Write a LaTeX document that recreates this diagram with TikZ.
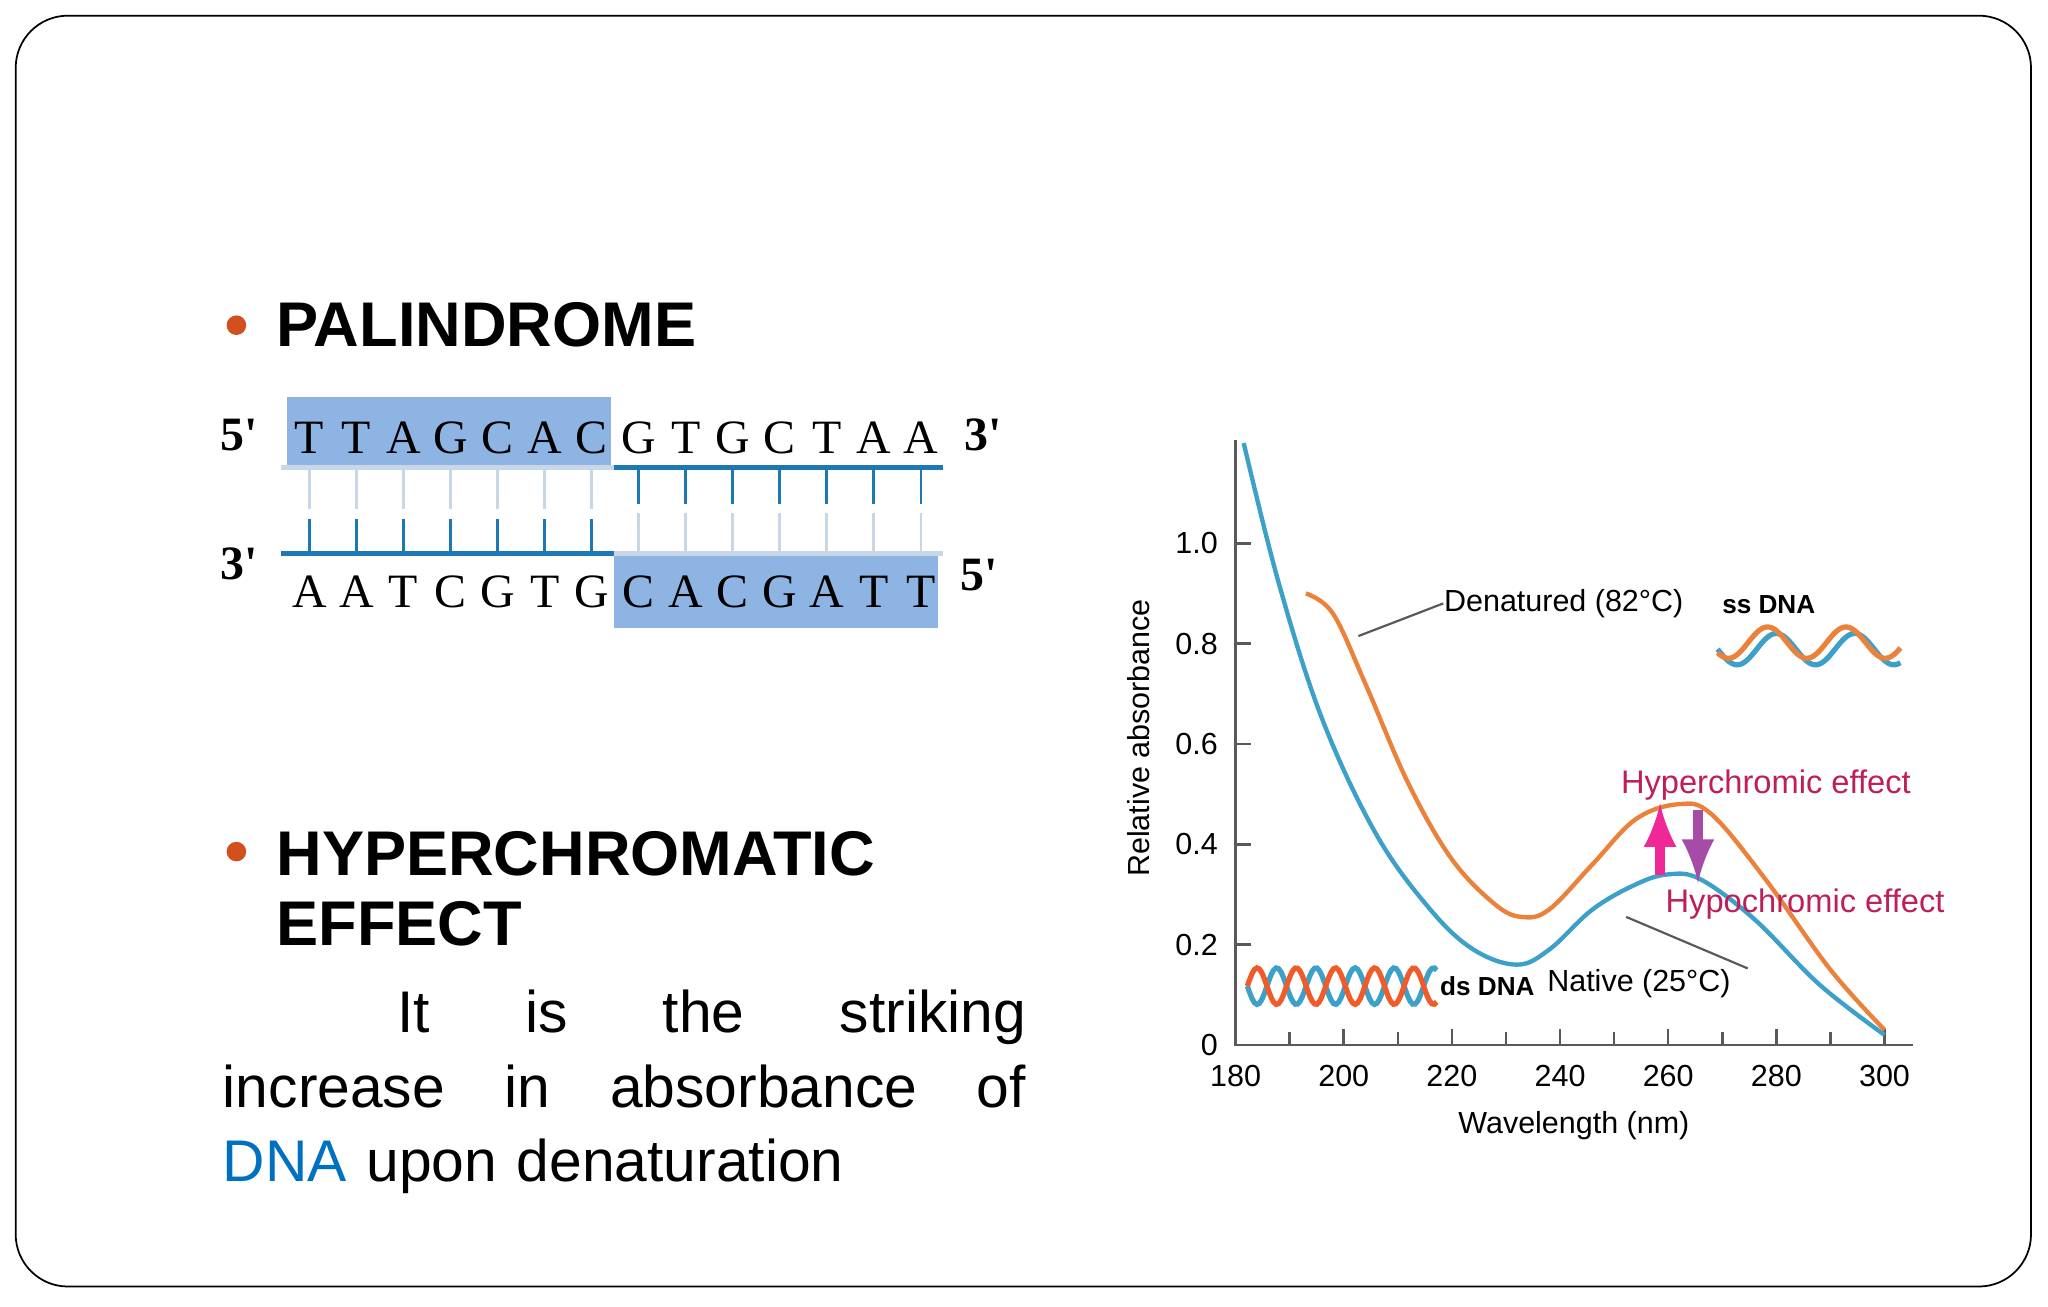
\documentclass[tikz,border=0pt]{standalone}
\usepackage{fontspec}
\setmainfont{Liberation Sans}
\newfontfamily\seqfont{Liberation Serif}
\usetikzlibrary{positioning}
\definecolor{boxblue}{RGB}{141,180,226}
\definecolor{strand}{RGB}{30,120,180}
\definecolor{pale}{RGB}{200,215,230}
\definecolor{bul}{RGB}{210,80,30}
\definecolor{nat}{RGB}{60,160,200}
\definecolor{den}{RGB}{235,130,60}
\definecolor{mag}{RGB}{190,30,90}
\definecolor{dnablue}{RGB}{0,112,192}
\tikzset{
  bullet/.style={fill=bul,circle,inner sep=0pt,minimum size=4.5pt},
  head/.style={anchor=west,inner sep=0pt,font=\fontsize{14.5}{17}\selectfont\bfseries},
  base/.style={font=\seqfont\fontsize{11}{12}\selectfont,inner sep=0pt},
  endlbl/.style={font=\seqfont\fontsize{11}{12}\selectfont\bfseries,inner sep=0pt},
  tick/.style={font=\fontsize{7}{8}\selectfont,inner sep=0pt},
  note/.style={font=\fontsize{7}{8}\selectfont,inner sep=0pt,anchor=west},
  effect/.style={font=\fontsize{7.5}{8}\selectfont,text=mag,inner sep=0pt}
}
\begin{document}
\begin{tikzpicture}[x=0.3pt,y=-0.3pt]
\useasboundingbox (0,0) rectangle (1568,1000);
\draw[rounded corners=12pt,line width=0.4pt] (12,12) rectangle (1555,985);

% palindrome
\node[bullet] (b1) at (181,249) {};
\node[head] (t1) at (211,249) {PALINDROME};
\fill[boxblue] (220,304) rectangle (468,360);
\fill[boxblue] (470,422) rectangle (718,481);
\foreach \s [count=\i] in {T,T,A,G,C,A,C,G,T,G,C,T,A,A}
  \node[base] (u\i) at (201+36*\i,335) {\s};
\foreach \s [count=\i] in {A,A,T,C,G,T,G,C,A,C,G,A,T,T}
  \node[base] (d\i) at (201+36*\i,453) {\s};
\foreach \i in {1,...,7} {
  \draw[pale,line width=0.6pt] (201+36*\i,360) -- (201+36*\i,390);
  \draw[strand,line width=0.6pt] (201+36*\i,424) -- (201+36*\i,397);
}
\foreach \i in {8,...,14} {
  \draw[strand,line width=0.6pt] (201+36*\i,358) -- (201+36*\i,386);
  \draw[pale,line width=0.6pt] (201+36*\i,422) -- (201+36*\i,393);
}
\draw[pale,line width=1.2pt] (215,358) -- (470,358);
\draw[strand,line width=1.2pt] (470,358) -- (722,358);
\draw[strand,line width=1.2pt] (215,424) -- (470,424);
\draw[pale,line width=1.2pt] (470,424) -- (722,424);
\node[endlbl] (p5) at (183,333) {5'};
\node[endlbl] (p3) at (753,333) {3'};
\node[endlbl] (q3) at (183,432) {3'};
\node[endlbl] (q5) at (750,440) {5'};

% hyperchromatic
\node[bullet] (b2) at (181,652) {};
\node[head,anchor=north west] (t2) at (211,630) {\begin{tabular}{@{}l@{}}HYPERCHROMATIC\\[-1pt]EFFECT\end{tabular}};
\node[anchor=north west,inner sep=0pt,text width=184.5pt,
  font=\fontsize{13.5}{17.2}\selectfont] (txt) at (170,757)
  {\hbox to 184.5pt{\hspace*{40pt}It\hfill is\hfill the\hfill striking}
   \hbox to 184.5pt{increase\hfill in\hfill absorbance\hfill of}
   \noindent\textcolor{dnablue}{DNA} upon denaturation};

% chart
\draw[gray!70!black,line width=0.6] (946,337) -- (946,800) -- (1465,800);
\foreach \v/\l in {1/0.2,2/0.4,3/0.6,4/0.8,5/1.0} {
  \draw[gray!70!black,line width=0.6] (946,800-76.8*\v) -- (958,800-76.8*\v);
  \node[tick,anchor=east] (y\v) at (933,800-76.8*\v) {\l};
}
\node[tick,anchor=east] (y0) at (933,800) {0};
\foreach \v [count=\i from 0] in {180,200,...,300} {
  \draw[gray!70!black,line width=0.6] (946+82.8*\i,800) -- (946+82.8*\i,788);
  \node[tick] (x\i) at (946+82.8*\i,824) {\v};
}
\foreach \i in {0,...,5}
  \draw[gray!70!black,line width=0.6] (987.4+82.8*\i,800) -- (987.4+82.8*\i,790);
\node[tick,rotate=90] (ylab) at (872,565) {Relative absorbance};
\node[tick] (xlab) at (1205,862) {Wavelength (nm)};

\begin{scope}[shift={(946,800)},x=1.242pt,y=115.2pt]
\draw[nat,line width=1] plot[smooth,tension=0.6] coordinates
  {(1.5,1.2) (8,0.92) (16,0.65) (26,0.42) (36,0.27) (44,0.19) (52,0.16)
   (58,0.19) (66,0.27) (74,0.32) (80,0.34) (86,0.33) (96,0.25) (108,0.12) (120,0.02)};
\draw[den,line width=1] plot[smooth,tension=0.6] coordinates
  {(13,0.9) (18,0.86) (24,0.72) (32,0.52) (40,0.37) (48,0.28) (53,0.255)
   (58,0.27) (66,0.36) (74,0.45) (82,0.48) (88,0.46) (98,0.33) (110,0.15) (120,0.03)};
\end{scope}

\coordinate (dl) at (1040,487);
\node[note] (dlab) at (1105,462) {Denatured (82°C)};
\draw[gray!70!black,line width=0.5] (dl) -- (dlab.west);
\node[note,font=\fontsize{6}{7}\selectfont\bfseries] (ss) at (1318,463) {ss DNA};
\coordinate (nl) at (1245,702);
\node[note] (nlab) at (1184,753) {Native (25°C)};
\draw[gray!70!black,line width=0.5] (nl) -- ([xshift=25]nlab.north);
\node[note,font=\fontsize{6}{7}\selectfont\bfseries] (ds) at (1102,755) {ds DNA};
\node[effect] (hyper) at (1352,601) {Hyperchromic effect};
\node[effect] (hypo) at (1382,692) {Hypochromic effect};
\coordinate (ua) at (1271,670); \coordinate (ub) at (1271,615);
\coordinate (da) at (1300,620); \coordinate (db) at (1300,676);
\draw[magenta!80!pink,line width=2.4pt,-latex] (ua) -- (ub);
\draw[violet!70,line width=2.4pt,-latex] (da) -- (db);

% helix icons
\begin{scope}[line width=1.2pt]
\draw[nat,domain=955:1100,samples=80] plot (\x,{755+14*sin((\x-955)*12)});
\draw[den!70!red,domain=955:1100,samples=80] plot (\x,{755-14*sin((\x-955)*12)});
\draw[nat,domain=1315:1455,samples=80] plot (\x,{497+12*sin((\x-1315)*6)});
\draw[den,domain=1315:1455,samples=80] plot (\x,{492+12*sin((\x-1315)*6+40)});
\end{scope}
\end{tikzpicture}
\end{document}
